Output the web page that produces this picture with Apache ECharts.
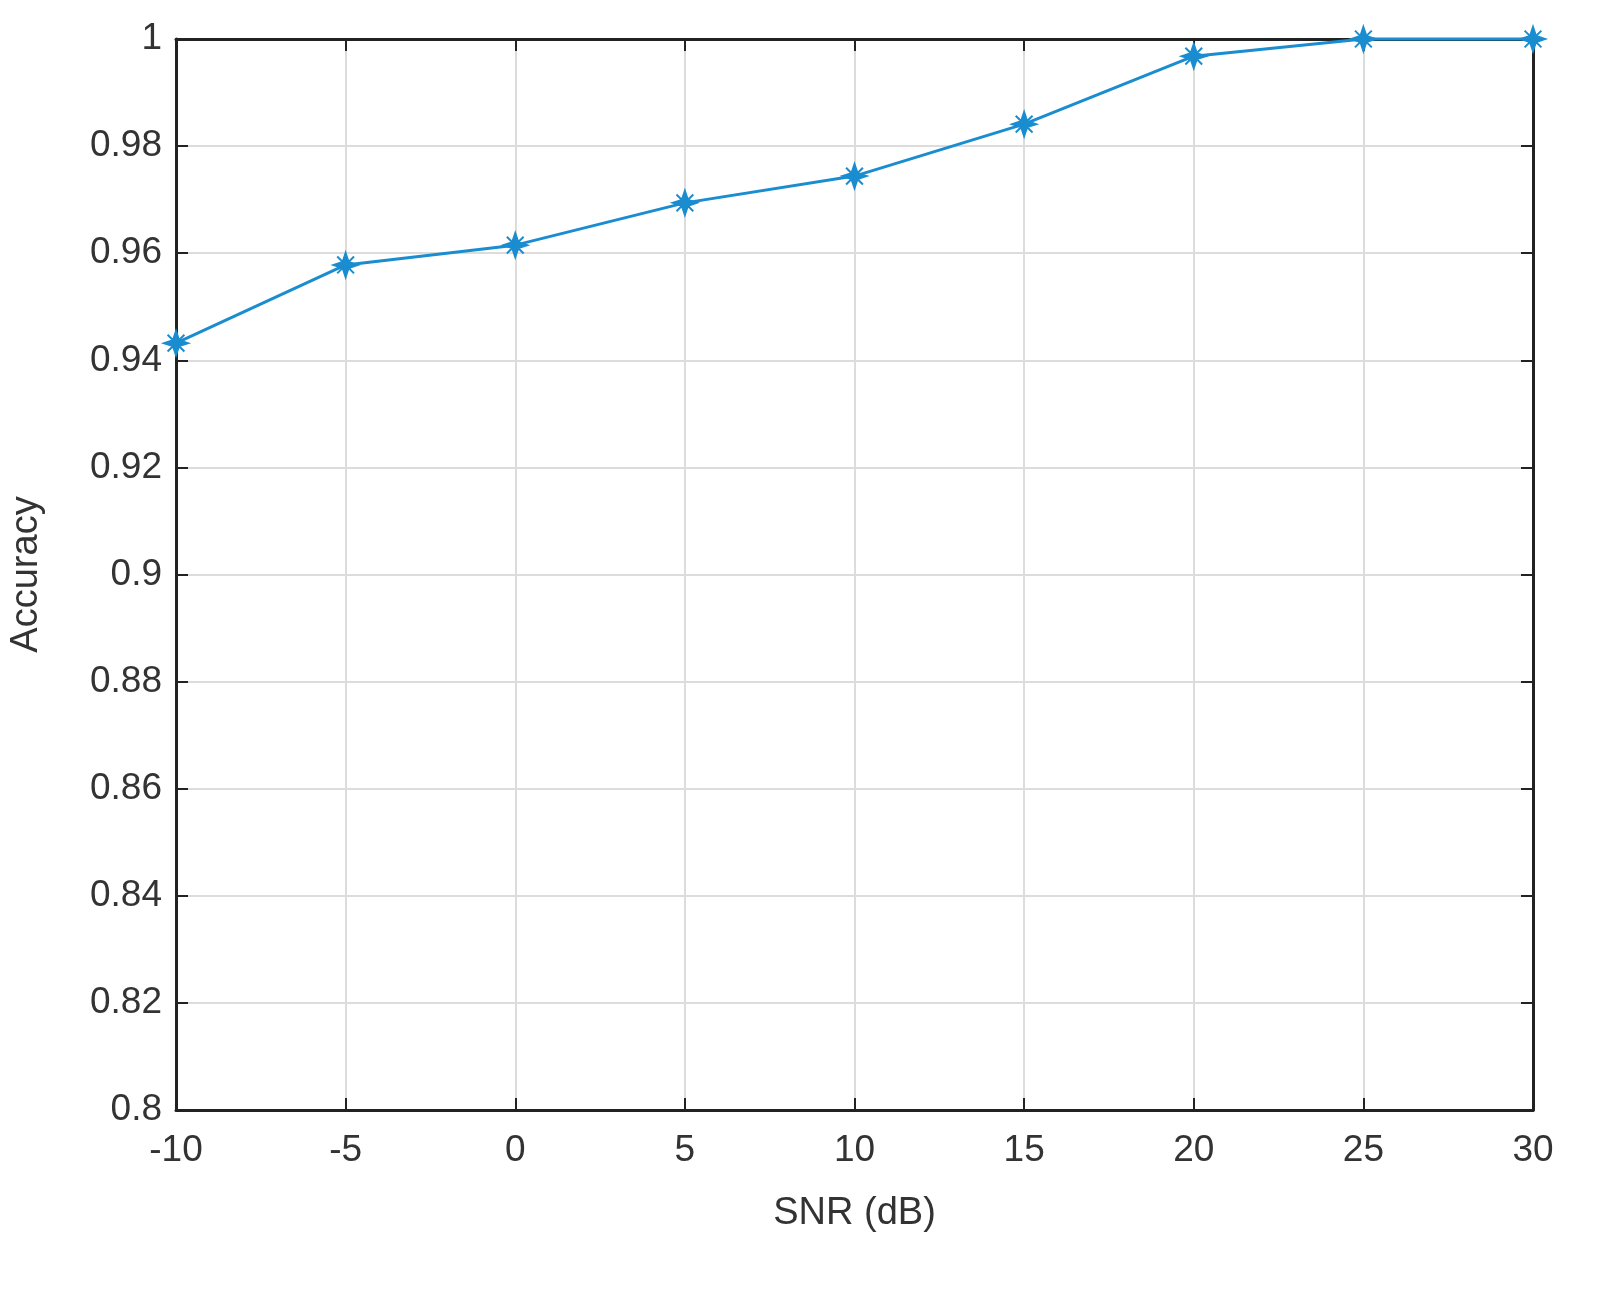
<!DOCTYPE html>
<html><head><meta charset="utf-8">
<script src="https://cdn.jsdelivr.net/npm/echarts@6/dist/echarts.min.js"></script>
<style>html,body{margin:0;padding:0;background:#fff}#c{width:1619px;height:1293px}</style>
</head><body><div id="c"></div>
<script>
const snr = [-10, -5, 0, 5, 10, 15, 20, 25, 30];
const accuracy = [0.9432, 0.9578, 0.9615, 0.9694, 0.9744, 0.9841, 0.9968, 1.0, 1.0];
const xTicks = [-10, -5, 0, 5, 10, 15, 20, 25, 30];
const yTicks = [0.8, 0.82, 0.84, 0.86, 0.88, 0.9, 0.92, 0.94, 0.96, 0.98, 1];

const chart = echarts.init(document.getElementById('c'));
const font = 'Liberation Sans';
const lbl = {color:'#333', fontSize:37, fontFamily:font};
const star = 'path://M0,-10 L2.5,-2.5 L10,0 L2.5,2.5 L0,10 L-2.5,2.5 L-10,0 L-2.5,-2.5 Z M-7,-7 L7,7 M7,-7 L-7,7';
const line = {show:true, onZero:false, lineStyle:{color:'#222', width:3}};
const baseX = {type:'value', min:-10, max:30, interval:5,
  axisLine:line, axisTick:{inside:true, length:12, lineStyle:{color:'#222', width:2}}};
const baseY = {type:'value', min:0.8, max:1, interval:0.02,
  axisLine:line, axisTick:{inside:true, length:12, lineStyle:{color:'#222', width:2}}};
chart.setOption({
  animation:false,
  grid:{left:170, right:86, top:39, bottom:183},
  xAxis:[
    Object.assign({}, baseX, {position:'bottom', name:'SNR (dB)', nameLocation:'middle', nameGap:85,
      nameTextStyle:{color:'#333', fontSize:38, fontFamily:font},
      axisLabel:Object.assign({margin:22, formatter:v=>String(v)}, lbl),
      splitLine:{show:true, lineStyle:{color:'#dcdcdc', width:2}}}),
    Object.assign({}, baseX, {position:'top', axisLabel:{show:false}, splitLine:{show:false}})
  ],
  yAxis:[
    Object.assign({}, baseY, {position:'left', name:'Accuracy', nameLocation:'middle', nameGap:130,
      nameTextStyle:{color:'#333', fontSize:38, fontFamily:font},
      axisLabel:Object.assign({margin:14, formatter:v=>String(+v.toFixed(2))}, lbl),
      splitLine:{show:true, lineStyle:{color:'#dcdcdc', width:2}}}),
    Object.assign({}, baseY, {position:'right', axisLabel:{show:false}, splitLine:{show:false}})
  ],
  series:[{type:'line', data:snr.map((x,i)=>[x, accuracy[i]]),
    lineStyle:{color:'#1a8dd0', width:3}, itemStyle:{color:'#1a8dd0', borderColor:'#1a8dd0', borderWidth:2},
    symbol:star, symbolSize:24, clip:false, z:5}]
});
</script></body></html>
